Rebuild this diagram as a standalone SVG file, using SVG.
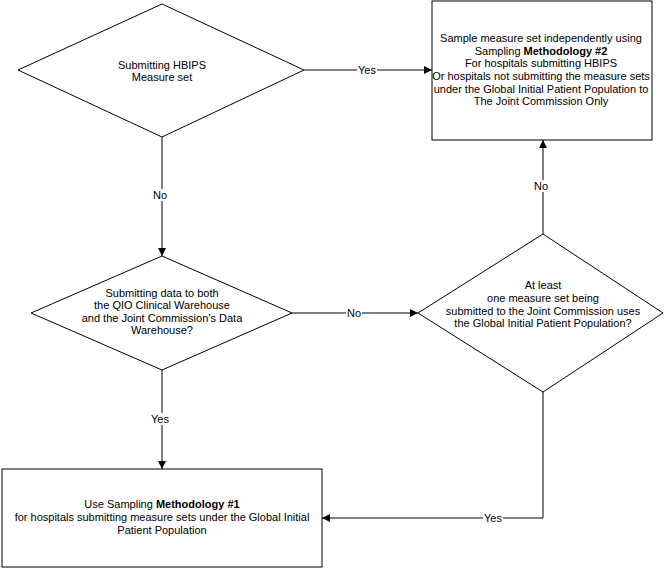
<svg xmlns="http://www.w3.org/2000/svg" width="665" height="568" viewBox="0 0 665 568">
<style>
.shape{fill:#fff;stroke:#000;stroke-width:1}
.t{font-family:"Liberation Sans",Arial,sans-serif;font-size:11px;fill:#000;text-anchor:middle}
.b{font-weight:bold}
.c{fill:none;stroke:#000;stroke-width:1}
.lb{fill:#fff;stroke:none}
</style>
<defs>
<marker id="ah" viewBox="0 0 10 10" refX="10" refY="5" markerWidth="8" markerHeight="8" markerUnits="userSpaceOnUse" orient="auto">
<path d="M0,0 L10,5 L0,10 z" fill="#000"/>
</marker>
</defs>
<rect width="665" height="568" fill="#fff"/>
<g id="connectors">
<line class="c" x1="304" y1="70" x2="432" y2="70" marker-end="url(#ah)"/>
<line class="c" x1="162" y1="137" x2="162" y2="256" marker-end="url(#ah)"/>
<line class="c" x1="292" y1="313" x2="418" y2="313" marker-end="url(#ah)"/>
<line class="c" x1="543" y1="234" x2="543" y2="140" marker-end="url(#ah)"/>
<line class="c" x1="162" y1="370" x2="162" y2="469" marker-end="url(#ah)"/>
<polyline class="c" points="543,392 543,518 322,518" marker-end="url(#ah)"/>
<rect class="lb" x="357" y="64" width="20" height="12"/>
<text class="t" x="367" y="74">Yes</text>
<rect class="lb" x="152" y="189" width="17" height="12"/>
<text class="t" x="160" y="199">No</text>
<rect class="lb" x="346" y="307" width="16" height="12"/>
<text class="t" x="354" y="317">No</text>
<rect class="lb" x="533" y="180" width="17" height="12"/>
<text class="t" x="541" y="190">No</text>
<rect class="lb" x="150" y="413" width="20" height="12"/>
<text class="t" x="160" y="423">Yes</text>
<rect class="lb" x="483" y="512" width="20" height="12"/>
<text class="t" x="493" y="522">Yes</text>
</g>
<g id="d1">
<polygon class="shape" points="162,4 304,70 162,137 18,70"/>
<text class="t" x="162" y="69">Submitting HBIPS</text>
<text class="t" x="162" y="81">Measure set</text>
</g>
<g id="box2">
<rect class="shape" x="432" y="1" width="220" height="139"/>
<text class="t" x="541" y="42">Sample measure set independently using</text>
<text class="t" x="541" y="55">Sampling <tspan class="b">Methodology #2</tspan></text>
<text class="t" x="541" y="67">For hospitals submitting HBIPS</text>
<text class="t" x="541" y="80">Or hospitals not submitting the measure sets</text>
<text class="t" x="541" y="93">under the Global Initial Patient Population to</text>
<text class="t" x="541" y="105">The Joint Commission Only</text>
</g>
<g id="d2">
<polygon class="shape" points="162,256 292,313 162,370 31,313"/>
<text class="t" x="162" y="297">Submitting data to both</text>
<text class="t" x="162" y="309">the QIO Clinical Warehouse</text>
<text class="t" x="162" y="322">and the Joint Commission’s Data</text>
<text class="t" x="162" y="334">Warehouse?</text>
</g>
<g id="d3">
<polygon class="shape" points="543,234 663,313 543,392 418,313"/>
<text class="t" x="543" y="289">At least</text>
<text class="t" x="543" y="302">one measure set being</text>
<text class="t" x="543" y="315">submitted to the Joint Commission uses</text>
<text class="t" x="543" y="327">the Global Initial Patient Population?</text>
</g>
<g id="box1">
<rect class="shape" x="2" y="469" width="320" height="98"/>
<text class="t" x="162" y="508">Use Sampling <tspan class="b">Methodology #1</tspan></text>
<text class="t" x="162" y="521">for hospitals submitting measure sets under the Global Initial</text>
<text class="t" x="162" y="534">Patient Population</text>
</g>
</svg>
